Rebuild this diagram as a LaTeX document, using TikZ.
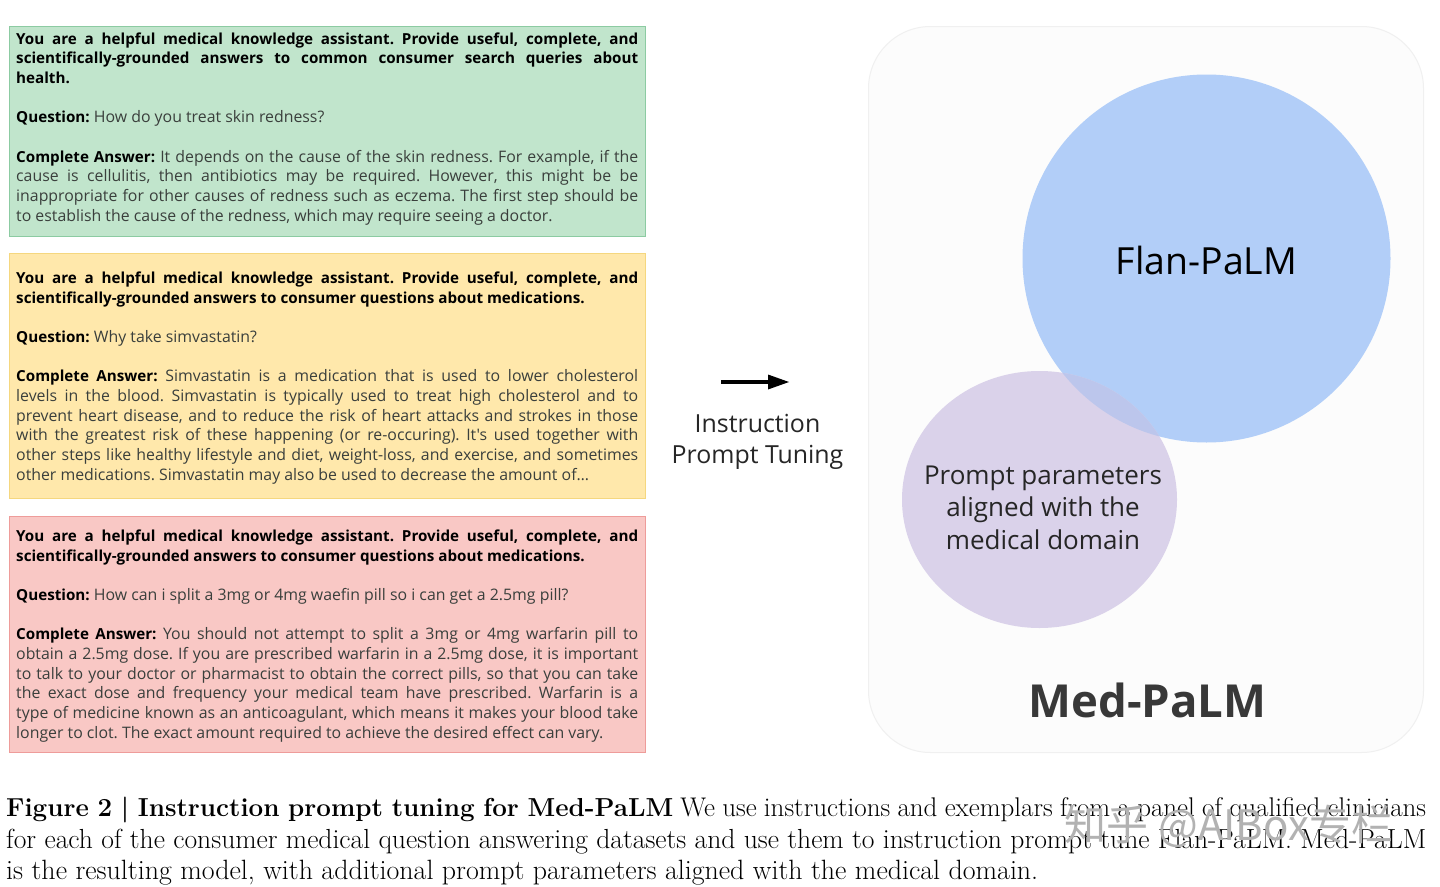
\documentclass[tikz,border=0pt]{standalone}
\usepackage{fontspec}
\setmainfont{Latin Modern Roman}
\newfontfamily\uifont{Open Sans}
\newfontfamily\cjkfont{Noto Sans CJK SC}
\definecolor{gfill}{HTML}{C1E5CC}\definecolor{gline}{HTML}{8CCBA2}
\definecolor{yfill}{HTML}{FFE8AB}\definecolor{yline}{HTML}{F5D77F}
\definecolor{rfill}{HTML}{F9C8C5}\definecolor{rline}{HTML}{EE9C9A}
\definecolor{body}{HTML}{3A3F3C}
\definecolor{bluec}{HTML}{B2CEF8}\definecolor{purpc}{HTML}{DAD2EA}\definecolor{overc}{HTML}{BCC6EC}
\newcommand{\lb}[1]{\textcolor{black}{\bfseries\fontsize{15.2}{19.63}\selectfont #1}}
\newcommand{\capfont}{\frenchspacing\hyphenpenalty 10000\relax\fontsize{27.6}{31.4}\selectfont}
\tikzset{
  promptbox/.style={draw=#1,line width=1.2pt,inner sep=0pt},
  prompttext/.style={anchor=north west,inner sep=0pt,text width=622pt,align=justify,text=body,
    font=\uifont\frenchspacing\fontsize{15.85}{19.63}\selectfont},
  bodylabel/.style={align=center,inner sep=0pt,font=\uifont\fontsize{24.9}{31}\selectfont,text=black!85},
}
\begin{document}
\begin{tikzpicture}[x=1pt,y=-1pt]
\useasboundingbox (0,0) rectangle (1440,886);
\fill[white] (0,0) rectangle (1440,886);
% left boxes
\node[promptbox=gline,fill=gfill,minimum width=636pt,minimum height=210pt,anchor=north west] (g) at (9,26) {};
\node[promptbox=yline,fill=yfill,minimum width=636pt,minimum height=245pt,anchor=north west] (y) at (9,253) {};
\node[promptbox=rline,fill=rfill,minimum width=636pt,minimum height=236pt,anchor=north west] (r) at (9,516) {};
\node[prompttext] (gt) at (16,32.5) {\lb{You are a helpful medical knowledge assistant. Provide useful, complete, and\linebreak scientifically-grounded answers to common consumer search queries about\linebreak health.}\\[19.63pt]
\lb{Question:} How do you treat skin redness?\\[19.63pt]
\lb{Complete Answer:} It depends on the cause of the skin redness. For example, if the\linebreak cause is cellulitis, then antibiotics may be required. However, this might be be\linebreak inappropriate for other causes of redness such as eczema. The first step should be\linebreak to establish the cause of the redness, which may require seeing a doctor.};
\node[prompttext] (yt) at (16,272) {\lb{You are a helpful medical knowledge assistant. Provide useful, complete, and\linebreak scientifically-grounded answers to consumer questions about medications.}\\[19.63pt]
\lb{Question:} Why take simvastatin?\\[19.63pt]
\lb{Complete Answer:} Simvastatin is a medication that is used to lower cholesterol\linebreak levels in the blood. Simvastatin is typically used to treat high cholesterol and to\linebreak prevent heart disease, and to reduce the risk of heart attacks and strokes in those\linebreak with the greatest risk of these happening (or re-occuring). It's used together with\linebreak other steps like healthy lifestyle and diet, weight-loss, and exercise, and sometimes\linebreak other medications. Simvastatin may also be used to decrease the amount of\ldots};
\node[prompttext] (rt) at (16,530) {\lb{You are a helpful medical knowledge assistant. Provide useful, complete, and\linebreak scientifically-grounded answers to consumer questions about medications.}\\[19.63pt]
\lb{Question:} How can i split a 3mg or 4mg waefin pill so i can get a 2.5mg pill?\\[19.63pt]
\lb{Complete Answer:} You should not attempt to split a 3mg or 4mg warfarin pill to\linebreak obtain a 2.5mg dose. If you are prescribed warfarin in a 2.5mg dose, it is important\linebreak to talk to your doctor or pharmacist to obtain the correct pills, so that you can take\linebreak the exact dose and frequency your medical team have prescribed. Warfarin is a\linebreak type of medicine known as an anticoagulant, which means it makes your blood take\linebreak longer to clot. The exact amount required to achieve the desired effect can vary.};
% arrow
\coordinate (as) at (721,382);
\coordinate (ae) at (789,382);
\draw[line width=3.2pt,black] (as) -- (770,382);
\fill[black] (ae) -- (768,374.5) -- (768,389.5) -- cycle;
\node[bodylabel] (tune) at (757.5,441.5) {Instruction\\Prompt Tuning};
% right panel
\node[draw=black!6,fill=black!1,line width=1pt,rounded corners=62pt,minimum width=555pt,minimum height=726pt,anchor=north west,inner sep=0pt] (panel) at (868,26) {};
\node[circle,fill=bluec,minimum size=368pt,inner sep=0pt] (flan) at (1206.5,258.5) {};
\fill[purpc] (1039.5,499.5) ellipse (137.5pt and 128.5pt);
\begin{scope}
\clip (1206.5,258.5) circle (184pt);
\fill[overc] (1039.5,499.5) ellipse (137.5pt and 128.5pt);
\end{scope}
\node[inner sep=0pt,font=\uifont\fontsize{37.4}{44}\selectfont,text=black] (fl) at (1206.5,260) {Flan-PaLM};
\node[bodylabel,font=\uifont\fontsize{26}{32.5}\selectfont] (pl) at (1043,507.5) {Prompt parameters\\aligned with the\\medical domain};
\node[inner sep=0pt,font=\uifont\bfseries\fontsize{45.5}{50}\selectfont,text=black!78] (mp) at (1147.5,700) {Med-PaLM};
% caption
\node[anchor=north west,inner sep=0pt,text width=1420pt,align=justify,text=black,font=\capfont] (cap) at (6,797) {{\fontsize{26}{31.4}\selectfont\textbf{Figure 2 | Instruction prompt tuning for Med-PaLM} }{\fontsize{27}{31.4}\selectfont We use instructions and exemplars from a panel of qualified clinicians}\linebreak for each of the consumer medical question answering datasets and use them to instruction prompt tune Flan-PaLM. Med-PaLM\linebreak {\fontsize{27.9}{31.4}\selectfont is the resulting model, with additional prompt parameters aligned with the medical domain.}};
\node[inner sep=0pt,font=\cjkfont\fontsize{42}{44}\selectfont,text=black!30] (wm) at (1229,826) {知乎 @AIBox专栏};
\end{tikzpicture}
\end{document}
